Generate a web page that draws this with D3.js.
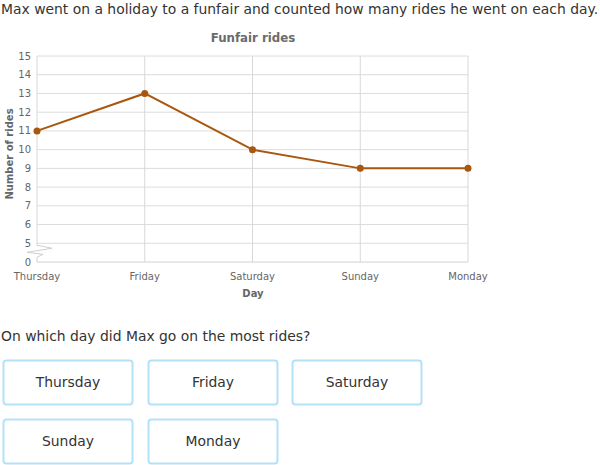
<!DOCTYPE html>
<html><head><meta charset="utf-8">
<script src="https://cdn.jsdelivr.net/npm/d3@7"></script>
<style>
body{margin:0;background:#fff;font-family:"DejaVu Sans",Verdana,sans-serif;}
svg{display:block;}
</style></head>
<body>
<svg id="c" width="600" height="465"></svg>
<script>
const days = ["Thursday","Friday","Saturday","Sunday","Monday"];
const rides = [11,13,10,9,9];
const yTicks = [0,5,6,7,8,9,10,11,12,13,14,15];
const answers = ["Thursday","Friday","Saturday","Sunday","Monday"];

const svg = d3.select("#c");
const L=37, R=468, T=56, B=262;
const step=(B-T)/11;
const x = d3.scalePoint().domain(days).range([L,R]);
const y = d3.scaleLinear().domain([0,5,15]).range([B,B-step,T]);

svg.append("text").attr("x",1).attr("y",14).attr("font-size",13.9).attr("fill","#333")
  .text("Max went on a holiday to a funfair and counted how many rides he went on each day.");

svg.append("text").attr("x",253).attr("y",42).attr("text-anchor","middle").attr("font-size",11.8)
  .attr("font-weight","bold").attr("fill","#6b6b6b").text("Funfair rides");

const g = svg.append("g");
g.selectAll("line.h").data(yTicks.filter(d=>d!==0)).join("line")
  .attr("x1",L).attr("x2",R).attr("y1",d=>y(d)).attr("y2",d=>y(d))
  .attr("stroke","#dcdcdc").attr("stroke-width",1);
g.append("line").attr("x1",L).attr("x2",R).attr("y1",B).attr("y2",B).attr("stroke","#d0d0d0");
g.selectAll("line.v").data(days).join("line")
  .attr("x1",d=>x(d)).attr("x2",d=>x(d)).attr("y1",T).attr("y2",B)
  .attr("stroke","#d8d8d8").attr("stroke-width",1);
g.append("rect").attr("x",L-1).attr("y",y(5)+0.5).attr("width",2).attr("height",B-y(5)-1).attr("fill","#fff");
g.append("path").attr("d",`M${L},${y(5)} L${L},${y(5)+2} L${L+15},${y(5)+5} L${L-10},${y(5)+9} L${L+6},${y(5)+11} L${L},${y(5)+14} L${L},${B}`)
  .attr("fill","none").attr("stroke","#d0d0d0").attr("stroke-width",1);

svg.selectAll("text.yt").data(yTicks).join("text")
  .attr("x",31).attr("y",d=>y(d)+3.5).attr("text-anchor","end").attr("font-size",10)
  .attr("fill","#666").text(d=>d);
svg.selectAll("text.xt").data(days).join("text")
  .attr("x",d=>x(d)).attr("y",280).attr("text-anchor","middle").attr("font-size",10)
  .attr("fill","#666").text(d=>d);

svg.append("text").attr("x",253).attr("y",297).attr("text-anchor","middle").attr("font-size",10)
  .attr("font-weight","bold").attr("fill","#666").text("Day");
svg.append("text").attr("transform",`translate(12.5,154) rotate(-90)`).attr("text-anchor","middle")
  .attr("font-size",10).attr("font-weight","bold").attr("fill","#666").text("Number of rides");

const col="#a9560f";
svg.append("path").datum(days.map((d,i)=>[x(d),y(rides[i])]))
  .attr("d",d3.line()).attr("fill","none").attr("stroke",col).attr("stroke-width",2);
svg.selectAll("circle.p").data(days).join("circle")
  .attr("cx",d=>x(d)).attr("cy",(d,i)=>y(rides[i])).attr("r",3.5).attr("fill",col);

svg.append("text").attr("x",1).attr("y",341).attr("font-size",13.9).attr("fill","#333")
  .text("On which day did Max go on the most rides?");

const bw=129, bh=44;
const bx=[3,148,292,3,148], by=[360,360,360,419,419];
const bg = svg.selectAll("g.b").data(answers).join("g").attr("transform",(d,i)=>`translate(${bx[i]},${by[i]})`);
bg.append("rect").attr("x",0.5).attr("y",0.5).attr("width",bw).attr("height",bh).attr("rx",3)
  .attr("fill","#fff").attr("stroke","#b3e2f8").attr("stroke-width",2);
bg.append("text").attr("x",bw/2+0.5).attr("y",bh/2+5).attr("text-anchor","middle").attr("font-size",13.9)
  .attr("fill","#333").text(d=>d);
</script>
</body></html>
